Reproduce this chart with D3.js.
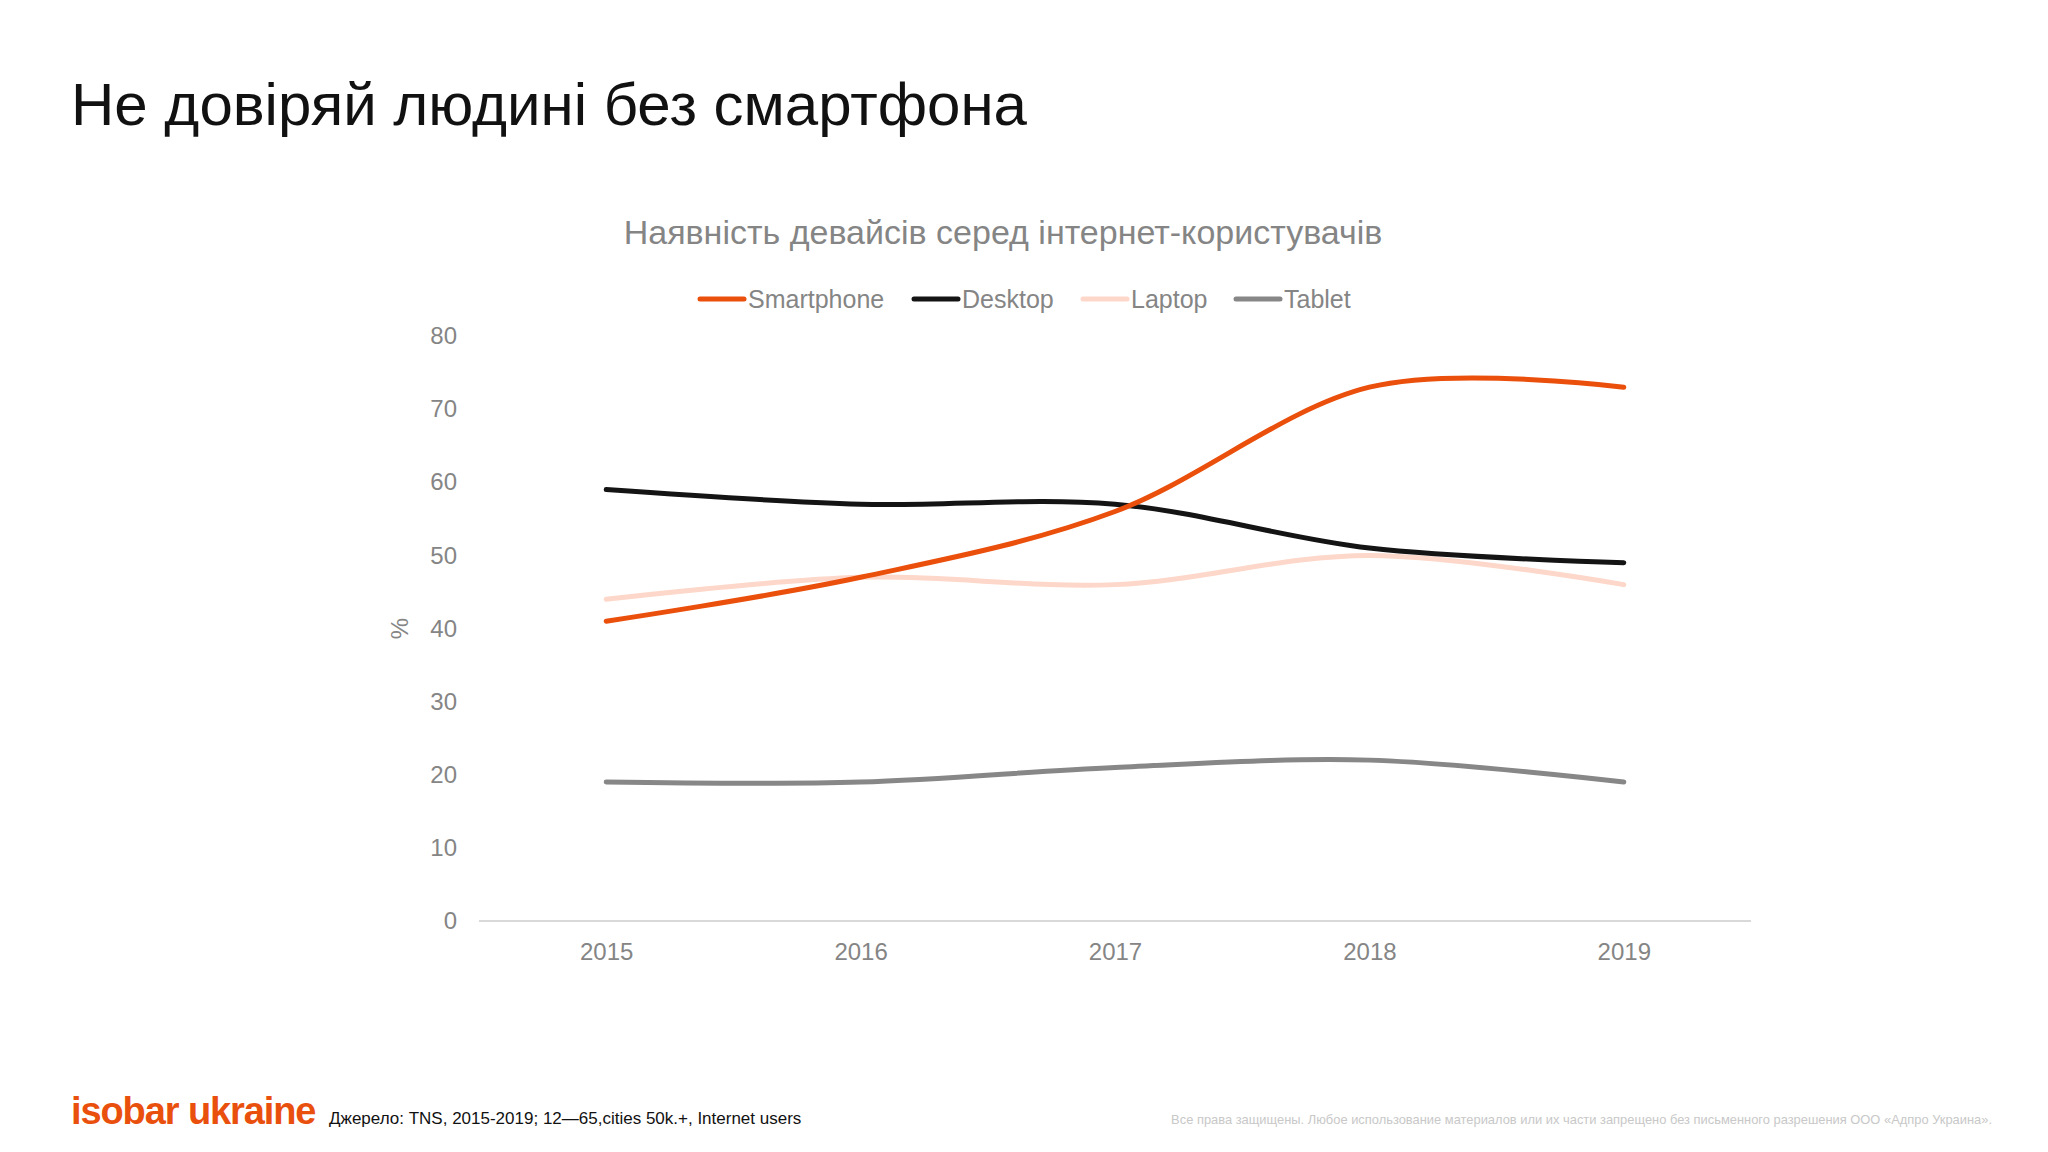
<!DOCTYPE html>
<html>
<head>
<meta charset="utf-8">
<script src="https://cdn.jsdelivr.net/npm/d3@7"></script>
<style>
    body { margin: 0; background: #fff; }
    svg { display: block; font-family: 'Liberation Sans', Arial, sans-serif; }
</style>
</head>
<body>
<div id="viz"></div>
<script>
const years = ['2015', '2016', '2017', '2018', '2019'];
const smartphone = [41, 47, 56, 73, 73];
const desktop = [59, 57, 57, 51, 49];
const laptop = [44, 47, 46, 50, 46];
const tablet = [19, 19, 21, 22, 19];
const yTicks = [0, 10, 20, 30, 40, 50, 60, 70, 80];

const seriesNames = ['Smartphone', 'Desktop', 'Laptop', 'Tablet'];
const seriesColours = ['#ea4f0c', '#141414', '#fdd7c9', '#878787'];

const width = 2048;
const height = 1152;
const plot = { left: 479, right: 1751, top: 336, bottom: 921 };
const textGrey = '#858585';

const svg = d3.select('#viz').append('svg')
    .attr('width', width)
    .attr('height', height);

// headline
svg.append('text')
    .attr('x', 71)
    .attr('y', 125)
    .style('font-size', '60px')
    .style('fill', '#111')
    .text('Не довіряй людині без смартфона');

svg.append('text')
    .attr('x', 1003)
    .attr('y', 244)
    .attr('text-anchor', 'middle')
    .style('font-size', '34px')
    .style('fill', textGrey)
    .text('Наявність девайсів серед інтернет-користувачів');

const xScale = d3.scalePoint()
    .domain(years)
    .range([plot.left, plot.right])
    .padding(0.5);

const yScale = d3.scaleLinear()
    .domain([0, 80])
    .range([plot.bottom, plot.top]);

// y axis labels only
const yAxis = svg.append('g')
    .attr('transform', 'translate(' + (plot.left - 22) + ',0)')
    .call(d3.axisLeft(yScale).tickValues(yTicks).tickSize(0).tickPadding(0));
yAxis.select('.domain').remove();
yAxis.selectAll('text')
    .style('font-size', '24px')
    .style('font-family', 'Liberation Sans, Arial, sans-serif')
    .style('fill', textGrey);

// x axis line + labels
const xAxis = svg.append('g')
    .attr('transform', 'translate(0,' + plot.bottom + ')')
    .call(d3.axisBottom(xScale).tickSize(0).tickPadding(22));
xAxis.select('.domain')
    .attr('d', 'M' + plot.left + ',0H' + plot.right)
    .style('stroke', '#d9d9d9')
    .style('stroke-width', 2);
xAxis.selectAll('text')
    .style('font-size', '24px')
    .style('font-family', 'Liberation Sans, Arial, sans-serif')
    .style('fill', textGrey);

svg.append('text')
    .attr('transform', 'translate(408,' + ((plot.top + plot.bottom) / 2) + ') rotate(-90)')
    .attr('text-anchor', 'middle')
    .style('font-size', '24px')
    .style('fill', textGrey)
    .text('%');

const allSeries = [smartphone, desktop, laptop, tablet];

const line = d3.line()
    .x((d, i) => xScale(years[i]))
    .y((d) => yScale(d))
    .curve(d3.curveCardinal.tension(0));

// draw in reverse so smartphone sits on top
svg.append('g').selectAll('path')
    .data(allSeries.map((values, i) => ({ values, i })).reverse())
    .enter().append('path')
        .attr('d', (d) => line(d.values))
        .style('fill', 'none')
        .style('stroke', (d) => seriesColours[d.i])
        .style('stroke-width', 5)
        .style('stroke-linecap', 'round');

// legend
const legendX = [700, 914, 1083, 1236];
const legend = svg.append('g').selectAll('g')
    .data(seriesNames)
    .enter().append('g')
        .attr('transform', (d, i) => 'translate(' + legendX[i] + ',299)');
legend.append('line')
    .attr('x1', 0)
    .attr('x2', 44)
    .style('stroke', (d, i) => seriesColours[i])
    .style('stroke-width', 5)
    .style('stroke-linecap', 'round');
legend.append('text')
    .attr('x', 48)
    .attr('y', 9)
    .style('font-size', '25px')
    .style('fill', textGrey)
    .text((d) => d);

// footer
svg.append('text')
    .attr('x', 71)
    .attr('y', 1124)
    .style('font-size', '38px')
    .style('font-weight', 'bold')
    .style('letter-spacing', '-1.1px')
    .style('fill', '#ea500d')
    .text('isobar ukraine');

svg.append('text')
    .attr('x', 329)
    .attr('y', 1124)
    .style('font-size', '17px')
    .style('fill', '#111')
    .text('Джерело: TNS, 2015-2019; 12—65,cities 50k.+, Internet users');

svg.append('text')
    .attr('x', 1992)
    .attr('y', 1124)
    .attr('text-anchor', 'end')
    .style('font-size', '12.9px')
    .style('fill', '#c8c8c8')
    .text('Все права защищены. Любое использование материалов или их части запрещено без письменного разрешения ООО «Адпро Украина».');
</script>
</body>
</html>
